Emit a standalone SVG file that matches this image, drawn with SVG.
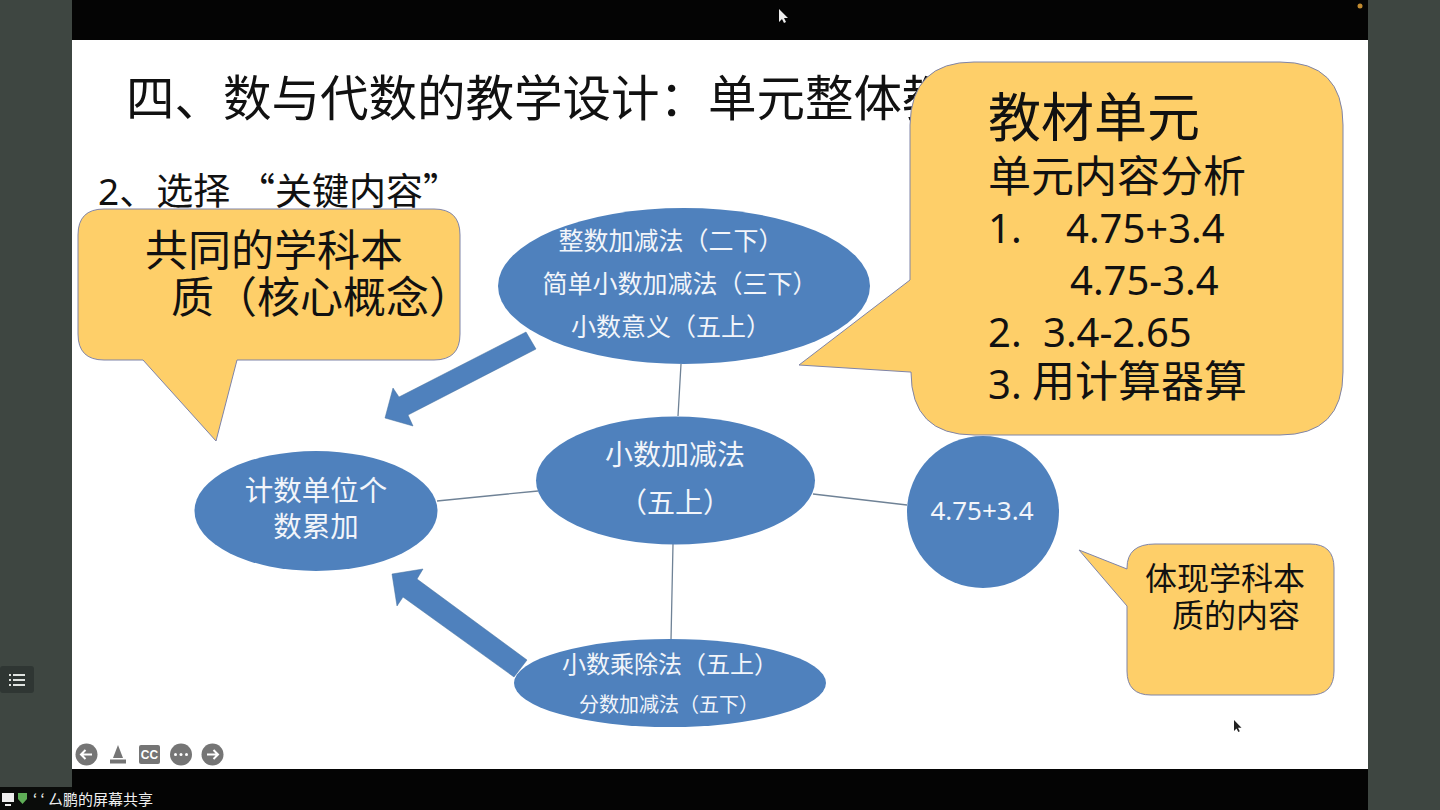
<svg xmlns="http://www.w3.org/2000/svg" width="1440" height="810" viewBox="0 0 1440 810">
<style>
text{font-family:"Noto Sans CJK SC","Liberation Sans",sans-serif;fill:#111}
.num{font-family:"Noto Sans","Liberation Sans",sans-serif}
.w{fill:#f2f5fa;text-anchor:middle}
.call{fill:#fecf69;stroke:#7f84a8;stroke-width:1}
.ell{fill:#4f81bd}
.ln{stroke:#6f8296;stroke-width:1.3;fill:none}
.ar{fill:#4f81bd;stroke:#44709f;stroke-width:.5}
.ic{fill:#757575}
</style>
<rect width="1440" height="810" fill="#3e4641"/>
<rect x="72" y="0" width="1296" height="40" fill="#040404"/>
<rect x="72" y="769" width="1296" height="41" fill="#040404"/>
<rect x="72" y="40" width="1296" height="729" fill="#fff"/>
<rect x="0" y="787" width="72" height="23" fill="#0a0c0a"/>
<circle cx="1360" cy="6" r="2.500" fill="#c08a30"/>
<path d="M779 9v13l3-3 2 4 2-1-2-4h4z" fill="#eee"/>
<path d="M1234 720v11l2.500-2.500 1.800 3.500 1.500-.8-1.800-3.500h3.500z" fill="#222"/>
<rect x="0" y="666" width="34" height="27" rx="3" fill="#2f3633"/>
<g fill="#dfe3e0"><rect x="9" y="674" width="2" height="2"/><rect x="13" y="674" width="12" height="2"/><rect x="9" y="679" width="2" height="2"/><rect x="13" y="679" width="12" height="2"/><rect x="9" y="684" width="2" height="2"/><rect x="13" y="684" width="12" height="2"/></g>

<text id="title" x="126" y="116" font-size="48.500">四、数与代数的教学设计：单元整体教</text>
<text id="sub" x="98" y="205" font-size="37"><tspan class="num">2</tspan>、选择<tspan x="238">“关键内容”</tspan></text>

<g id="connectors">
<path class="ln" d="M681 364 678 416M437 501 538 491M813 494 907 505M673 544 671 640"/>
<path class="ar" d="M526 332 536 349 408 415 413 426 385 418 393 388 399 397Z"/>
<path class="ar" d="M527 660 514 677 403 597 397 606 392 574 423 569 417 579Z"/>
</g>

<g id="node-top"><ellipse class="ell" cx="684" cy="286" rx="186" ry="78"/>
<text class="w" x="671" y="250" font-size="25">整数加减法（二下）</text>
<text class="w" x="680" y="293" font-size="25">简单小数加减法（三下）</text>
<text class="w" x="671" y="336" font-size="25">小数意义（五上）</text></g>

<g id="node-center"><ellipse class="ell" cx="675.500" cy="480.500" rx="139.500" ry="64"/>
<text class="w" x="675" y="465" font-size="28">小数加减法</text>
<text class="w" x="675" y="513" font-size="28">（五上）</text></g>

<g id="node-left"><ellipse class="ell" cx="316" cy="511" rx="121.500" ry="60"/>
<text class="w" x="316" y="501" font-size="28.500">计数单位个</text>
<text class="w" x="316" y="537" font-size="28.500">数累加</text></g>

<g id="node-right"><circle class="ell" cx="983" cy="512" r="76"/>
<text class="w num" x="982" y="520" font-size="26">4.75+3.4</text></g>

<g id="node-bottom"><ellipse class="ell" cx="670" cy="683" rx="156" ry="44"/>
<text class="w" x="670" y="673" font-size="24">小数乘除法（五上）</text>
<text class="w" x="669" y="712" font-size="20">分数加减法（五下）</text></g>

<g id="callout-left"><path class="call" d="M104 209H434Q460 209 460 235V334Q460 360 434 360H237L216 441 143 360H104Q78 360 78 334V235Q78 209 104 209Z"/>
<text x="145" y="266" font-size="43">共同的学科本</text>
<text x="171" y="313" font-size="43">质（核心概念）</text></g>

<g id="callout-big"><path class="call" d="M974 62H1280Q1343 62 1343 125V372Q1343 435 1280 435H974Q911 435 911 372L910 372 799 365 910 280V125Q911 62 974 62Z"/>
<text x="988" y="137" font-size="53">教材单元</text>
<text x="988" y="192" font-size="43">单元内容分析</text>
<text class="num" x="988" y="243" font-size="40">1.</text>
<text class="num" x="1066" y="243" font-size="40">4.75+3.4</text>
<text class="num" x="1070" y="295" font-size="40">4.75-3.4</text>
<text class="num" x="988" y="347" font-size="40">2.</text>
<text class="num" x="1043" y="347" font-size="40">3.4-2.65</text>
<text class="num" x="988" y="399" font-size="40">3.</text>
<text x="1032" y="397" font-size="43">用计算器算</text></g>

<g id="callout-small"><path class="call" d="M1155 544H1310Q1334 544 1334 568V671Q1334 695 1310 695H1151Q1127 695 1127 671V606L1079 550 1127 569V568Q1127 544 1155 544Z"/>
<text x="1145" y="590" font-size="32">体现学科本</text>
<text x="1172" y="627" font-size="32">质的内容</text></g>

<g id="toolbar">
<circle class="ic" cx="86.500" cy="754.500" r="11"/><path d="M92 754.500H81M85.500 750 81 754.500 85.500 759" stroke="#fff" stroke-width="2" fill="none"/>
<path class="ic" d="M118 745 123 758H113Z"/><rect class="ic" x="110" y="759.500" width="16" height="4"/>
<rect class="ic" x="139" y="745" width="21" height="19" rx="2"/><text x="149.500" y="759" font-size="12" font-weight="700" text-anchor="middle" style="fill:#fff;font-family:'Liberation Sans',sans-serif">CC</text>
<circle class="ic" cx="181" cy="754.500" r="11"/><g fill="#fff"><circle cx="175.500" cy="754.500" r="1.500"/><circle cx="181" cy="754.500" r="1.500"/><circle cx="186.500" cy="754.500" r="1.500"/></g>
<circle class="ic" cx="212.500" cy="754.500" r="11"/><path d="M207 754.500H218M213.500 750 218 754.500 213.500 759" stroke="#fff" stroke-width="2" fill="none"/>
</g>

<g id="status">
<rect x="2" y="793" width="12" height="9" fill="#eee"/><rect x="5" y="804" width="6" height="2" fill="#eee"/>
<path d="M18 793H27V799L22.500 804 18 799Z" fill="#5fae57"/>
<text x="33" y="805" font-size="15" style="fill:#f0f0f0">ʻ ʻ 厶鹏的屏幕共享</text>
</g>
</svg>
